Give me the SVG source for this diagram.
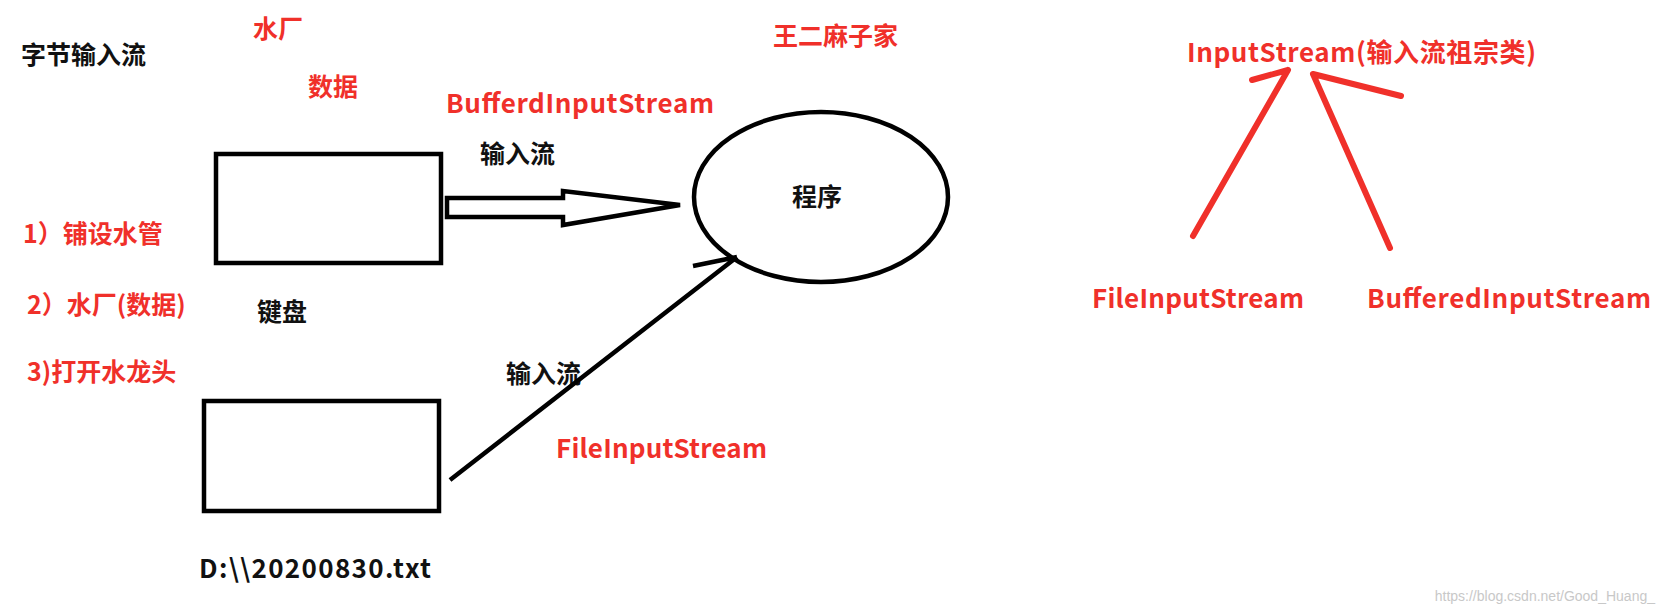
<svg xmlns="http://www.w3.org/2000/svg" width="1667" height="614" viewBox="0 0 1667 614">
<style>
.t{font-family:"Noto Sans CJK SC","Noto Sans",sans-serif;font-weight:bold;font-size:25px;dominant-baseline:central}
.l{font-size:26px}
.r{fill:#f0302a}.k{fill:#111}
.b{fill:none;stroke:#000;stroke-width:4.5}
.rl{fill:none;stroke:#f0302a;stroke-width:6;stroke-linecap:round;stroke-linejoin:round}
.wm{font-family:"Liberation Sans",sans-serif;font-size:14px;fill:#c8c8c8}
</style>
<rect width="1667" height="614" fill="#fff"/>
<text class="t k" x="21" y="53">字节输入流</text>
<text class="t r" x="253" y="27">水厂</text>
<text class="t r" x="308" y="85">数据</text>
<text class="t l r" x="446" y="101" textLength="268">BufferdInputStream</text>
<text class="t r" x="773" y="34">王二麻子家</text>
<text class="t k" x="480" y="152">输入流</text>
<text class="t r" x="23" y="232">1）铺设水管</text>
<text class="t r" x="27" y="303">2）水厂(数据)</text>
<text class="t k" x="257" y="310">键盘</text>
<text class="t r" x="27" y="370">3)打开水龙头</text>
<text class="t k" x="506" y="372">输入流</text>
<text class="t l r" x="556" y="446" textLength="211">FileInputStream</text>
<text class="t l k" x="199" y="566" textLength="232">D:\\20200830.txt</text>
<text class="t l r" x="1187" y="50" textLength="349">InputStream(输入流祖宗类)</text>
<text class="t l r" x="1092" y="296" textLength="212">FileInputStream</text>
<text class="t l r" x="1367" y="296" textLength="284">BufferedInputStream</text>
<text class="wm" x="1655" y="601" text-anchor="end">https://blog.csdn.net/Good_Huang_</text>
<g id="keyboard"><rect class="b" x="216" y="154" width="225" height="109"/></g>
<g id="file"><rect class="b" x="204" y="401" width="235" height="110"/></g>
<g id="program"><ellipse class="b" cx="821" cy="197" rx="127" ry="85"/><text class="t k" x="792" y="195">程序</text></g>
<g id="connectors">
<path class="b" d="M447 198 H563 V191 L680 205 L563 225 V217 H447 Z"/>
<path class="b" d="M450 480 L737 257 M693 266 L737 257"/>
<path class="rl" d="M1193 236 L1288 70 M1252 80 L1288 70"/>
<path class="rl" d="M1390 248 L1313 74 M1401 96 L1313 74"/>
</g>
</svg>
